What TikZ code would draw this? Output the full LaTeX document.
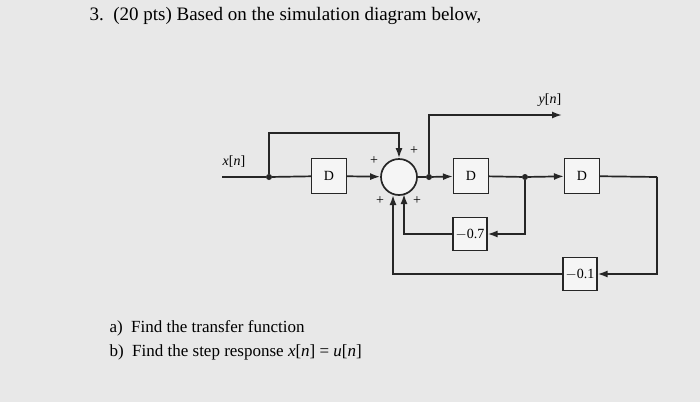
\documentclass[tikz,border=0pt]{standalone}
\usepackage{fontspec}
\setmainfont{Liberation Serif}
\usetikzlibrary{arrows.meta}
\begin{document}
\begin{tikzpicture}[x=1pt,y=-1pt,
  line/.style={line width=1.7pt,draw=black!85},
  arr/.style={line width=1.7pt,draw=black!85,-{Latex[length=10pt,width=7pt]}},
  blk/.style={draw=black!85,line width=1.1pt,fill=white!92!gray,inner sep=0pt,minimum width=35pt,minimum height=35pt,font=\fontsize{14}{14}\selectfont},
  gain/.style={draw=black!85,line width=1.1pt,fill=white!92!gray,inner sep=0pt,minimum width=34pt,minimum height=33pt,font=\fontsize{14}{14}\selectfont},
  dot/.style={circle,fill=black!85,inner sep=0pt,minimum size=6pt},
  sgn/.style={font=\fontsize{14}{14}\selectfont}]
\fill[gray!18] (0,0) rectangle (700,402);
\useasboundingbox (0,0) rectangle (700,402);
\node[anchor=west,font=\fontsize{19}{19}\selectfont] (title) at (86,16) {3.\ \ (20 pts) Based on the simulation diagram below,};
\node[anchor=west,font=\fontsize{17}{17}\selectfont] (qa) at (106,328) {a)\ \ Find the transfer function};
\node[anchor=west,font=\fontsize{17}{17}\selectfont] (qb) at (106,352) {b)\ \ Find the step response \textit{x}[\textit{n}] = \textit{u}[\textit{n}]};
\coordinate (in) at (222,177);
\node[font=\fontsize{14}{14}\selectfont] (xl) at (234,162) {\textit{x}[\textit{n}]};
\node[dot] (d1) at (269,177) {};
\node[blk] (D1) at (329,176) {D};
\node[circle,draw=black!85,line width=1.7pt,minimum size=36pt,inner sep=0pt,fill=white!92!gray] (S) at (399,177) {};
\node[dot] (d2) at (429,177) {};
\node[blk] (D2) at (471,176) {D};
\node[dot] (d3) at (525,177) {};
\node[blk] (D3) at (582,176) {D};
\node[gain] (g7) at (470,234) {$-$0.7};
\node[gain] (g1) at (580,274) {$-$0.1};
\coordinate (yo) at (562,115);
\node[font=\fontsize{14}{14}\selectfont] (yl) at (550,100) {\textit{y}[\textit{n}]};
\coordinate (r3) at (657,177);
\draw[line] (in) -- (d1) -- (D1);
\draw[arr] (D1) -- (S);
\draw[arr] (d1) |- (399,133) -- (S.north);
\draw[line] (S) -- (d2);
\draw[arr] (d2) -- (D2);
\draw[arr] (d2) |- (yo);
\draw[line] (D2) -- (d3);
\draw[arr] (d3) -- (D3);
\draw[arr] (d3) |- (g7);
\draw[arr] (g7) -| (404,194);
\draw[line] (D3) -- (r3);
\draw[arr] (r3) |- (g1);
\draw[arr] (g1) -| (393,195);
\node[sgn] (p1) at (374,161) {+};
\node[sgn] (p2) at (414,151) {+};
\node[sgn] (p3) at (380,201) {+};
\node[sgn] (p4) at (417,201) {+};
\end{tikzpicture}
\end{document}
